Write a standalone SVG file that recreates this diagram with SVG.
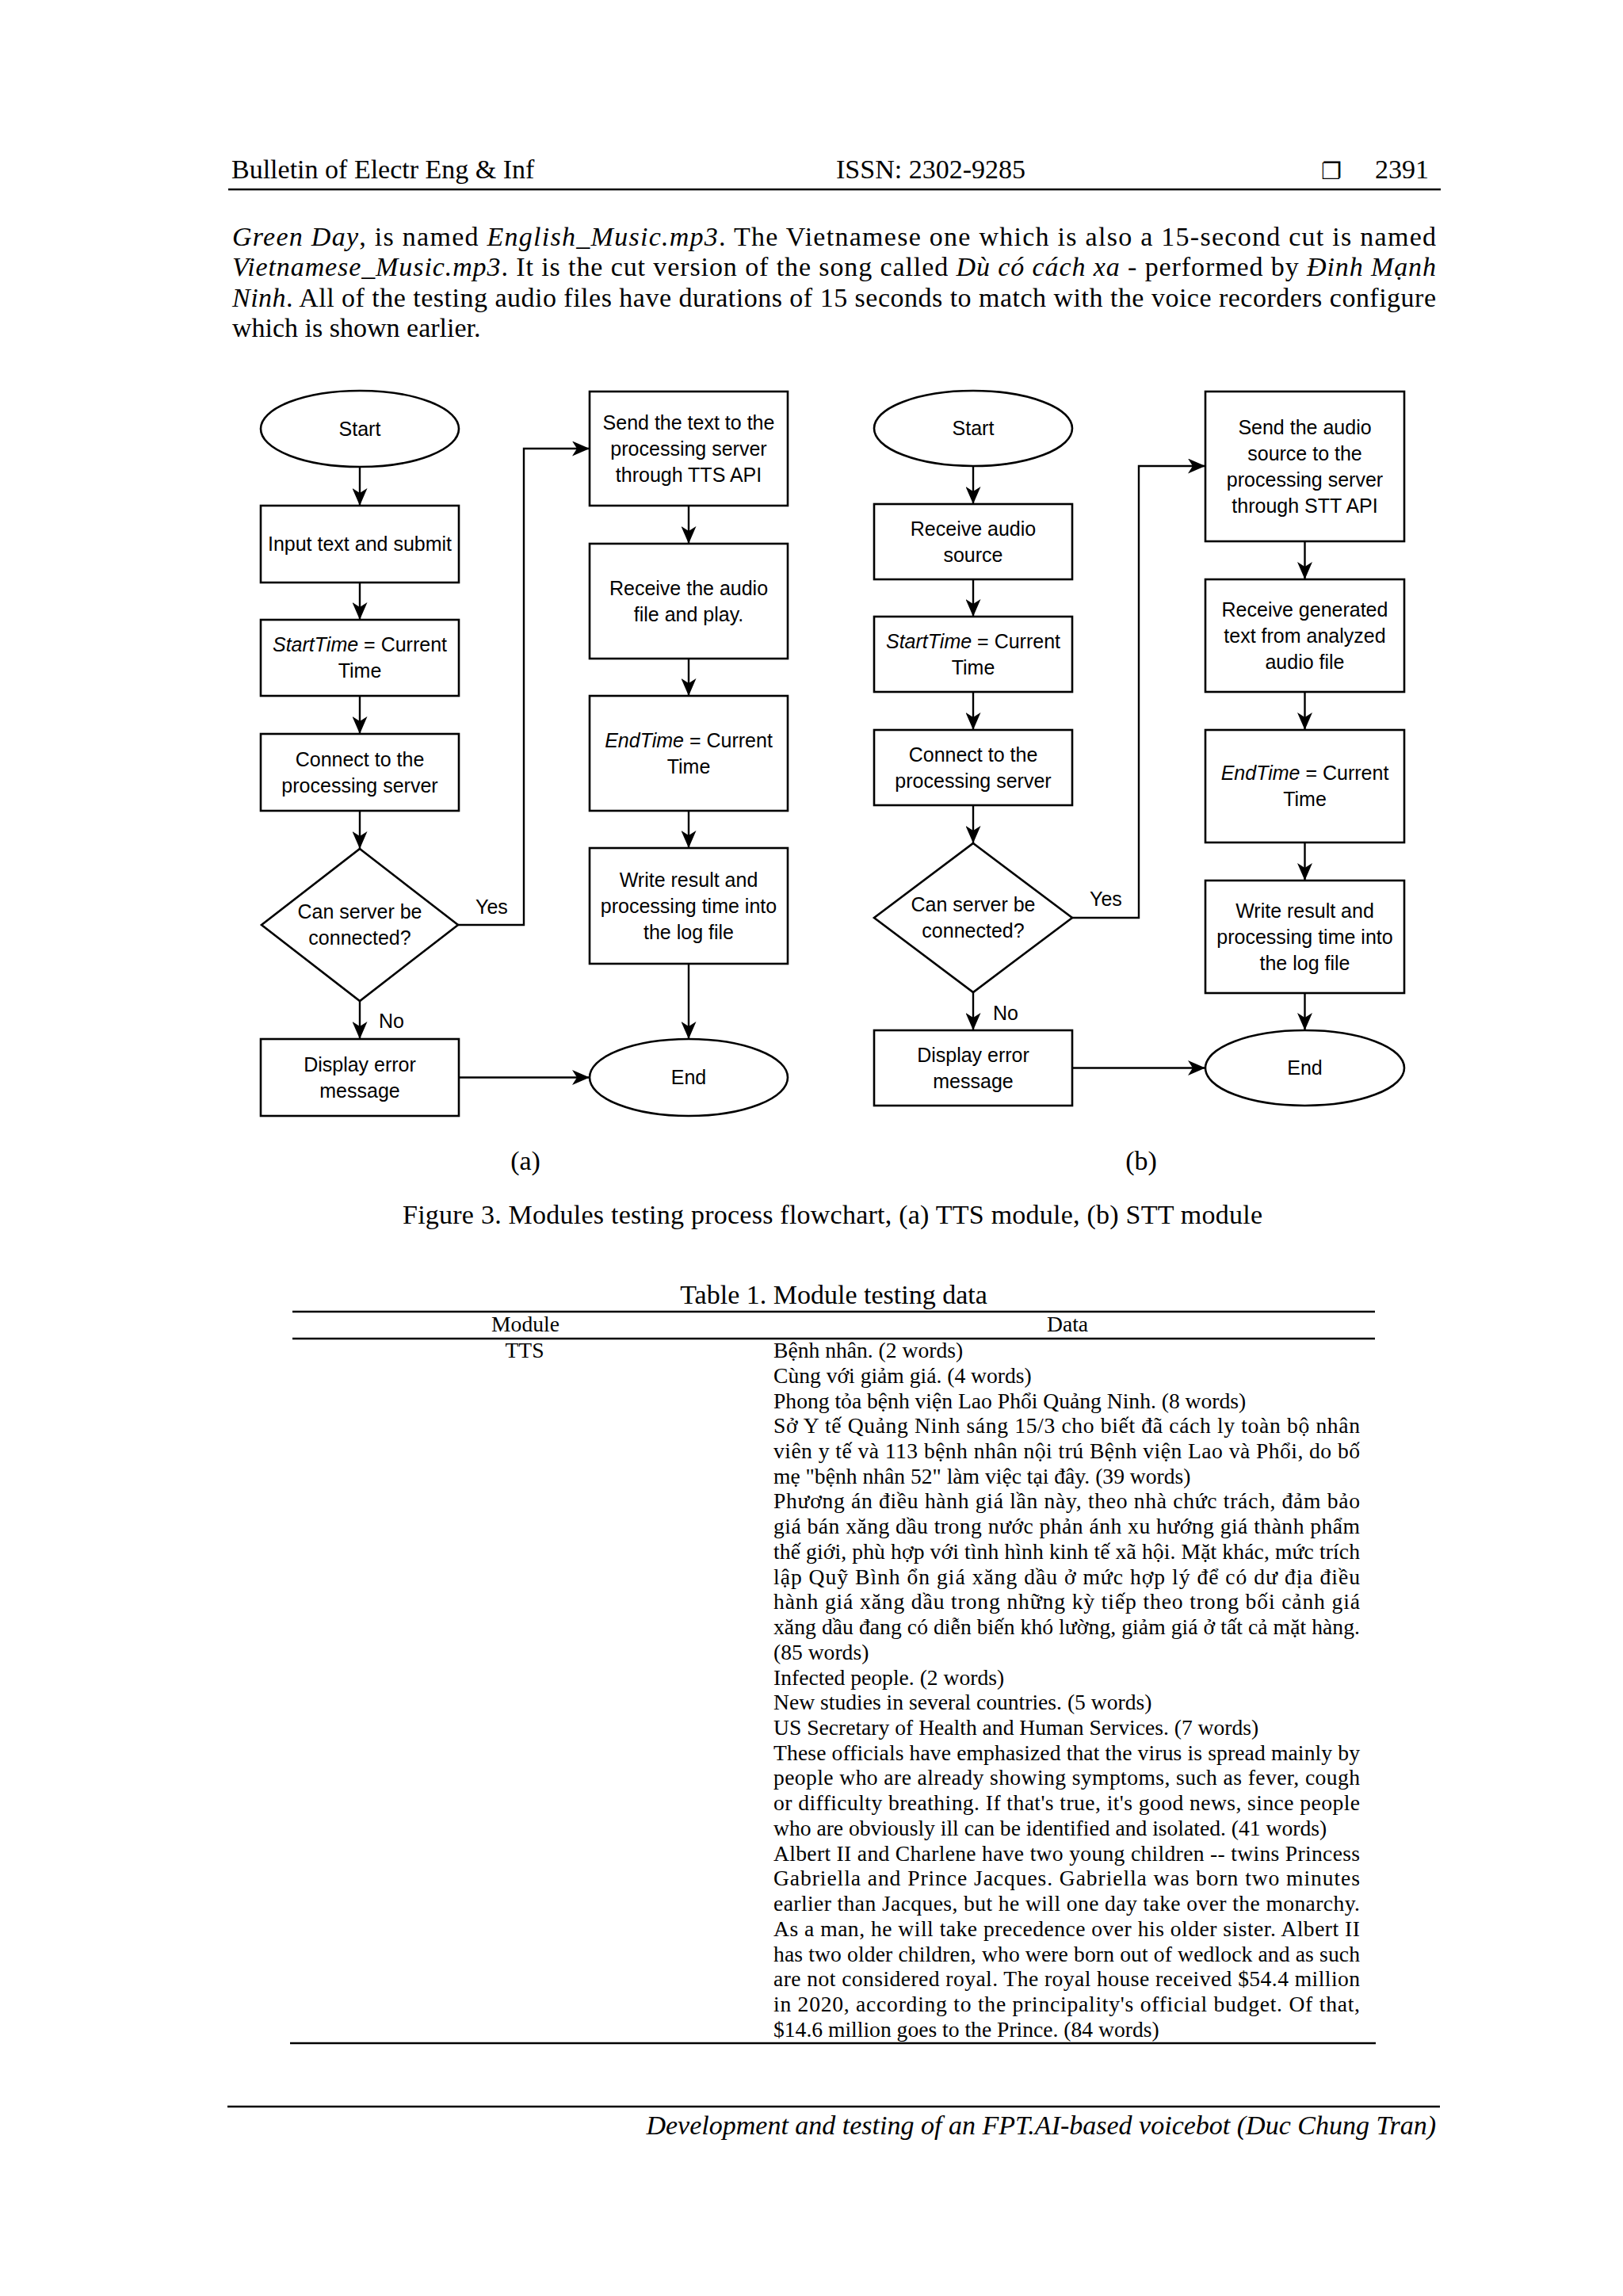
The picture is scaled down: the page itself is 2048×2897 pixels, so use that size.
<svg xmlns="http://www.w3.org/2000/svg" width="2048" height="2897" viewBox="0 0 2048 2897">
<style>
.pg{font-family:"Liberation Serif","Times New Roman",serif;font-size:34px;fill:#000}
.tb{font-family:"Liberation Serif","Times New Roman",serif;font-size:27.6px;fill:#000}
.fc{font-family:"Liberation Sans",Arial,sans-serif;font-size:25px;fill:#000;text-anchor:middle}
.lb{font-family:"Liberation Sans",Arial,sans-serif;font-size:25px;fill:#000}
.it{font-style:italic}
.shape{fill:#fff;stroke:#000;stroke-width:2.6}
.conn{fill:none;stroke:#000;stroke-width:2.4}
.rule{stroke:#000;stroke-width:2.5}
</style>
<defs>
<marker id="arr" viewBox="0 0 22 19" refX="22" refY="9.5" markerWidth="22" markerHeight="19" markerUnits="userSpaceOnUse" orient="auto">
<path d="M0,0 L22,9.5 L0,19 L6,9.5 Z" fill="#000"/>
</marker>
</defs>
<rect width="2048" height="2897" fill="#fff"/>

<!-- page header -->
<g id="header">
<text class="pg" x="292" y="225">Bulletin of Electr Eng &amp; Inf</text>
<text class="pg" x="1055" y="225">ISSN: 2302-9285</text>
<text x="1667" y="226" style="font-family:'DejaVu Sans',sans-serif;font-size:29px;font-weight:bold;fill:#000">❐</text>
<text class="pg" x="1735" y="225">2391</text>
<line class="rule" x1="288" y1="239" x2="1818" y2="239"/>
</g>

<!-- paragraph -->
<g id="paragraph">
<text class="pg" x="293" y="310" textLength="1519" lengthAdjust="spacing"><tspan class="it">Green Day</tspan>, is named <tspan class="it">English_Music.mp3</tspan>. The Vietnamese one which is also a 15-second cut is named</text>
<text class="pg" x="293" y="348" textLength="1519" lengthAdjust="spacing"><tspan class="it">Vietnamese_Music.mp3</tspan>. It is the cut version of the song called <tspan class="it">Dù có cách xa</tspan> - performed by <tspan class="it">Đinh Mạnh</tspan></text>
<text class="pg" x="293" y="387" textLength="1519" lengthAdjust="spacing"><tspan class="it">Ninh</tspan>. All of the testing audio files have durations of 15 seconds to match with the voice recorders configure</text>
<text class="pg" x="293" y="425">which is shown earlier.</text>
</g>

<!-- connectors -->
<g id="connectors">
<path class="conn" marker-end="url(#arr)" d="M454,589 V638"/>
<path class="conn" marker-end="url(#arr)" d="M454,735 V782"/>
<path class="conn" marker-end="url(#arr)" d="M454,878 V926"/>
<path class="conn" marker-end="url(#arr)" d="M454,1023 V1071"/>
<path class="conn" marker-end="url(#arr)" d="M454,1263 V1311"/>
<path class="conn" marker-end="url(#arr)" d="M578,1167 H661 V566 H744"/>
<path class="conn" marker-end="url(#arr)" d="M869,638 V686"/>
<path class="conn" marker-end="url(#arr)" d="M869,831 V878"/>
<path class="conn" marker-end="url(#arr)" d="M869,1023 V1070"/>
<path class="conn" marker-end="url(#arr)" d="M869,1216 V1311"/>
<path class="conn" marker-end="url(#arr)" d="M579,1359.5 H744"/>
<path class="conn" marker-end="url(#arr)" d="M1228,588 V636"/>
<path class="conn" marker-end="url(#arr)" d="M1228,731 V778"/>
<path class="conn" marker-end="url(#arr)" d="M1228,873 V921"/>
<path class="conn" marker-end="url(#arr)" d="M1228,1016 V1064"/>
<path class="conn" marker-end="url(#arr)" d="M1228,1252 V1300"/>
<path class="conn" marker-end="url(#arr)" d="M1353,1158 H1437 V588 H1521"/>
<path class="conn" marker-end="url(#arr)" d="M1646.5,683 V731"/>
<path class="conn" marker-end="url(#arr)" d="M1646.5,873 V921"/>
<path class="conn" marker-end="url(#arr)" d="M1646.5,1063 V1111"/>
<path class="conn" marker-end="url(#arr)" d="M1646.5,1253 V1300"/>
<path class="conn" marker-end="url(#arr)" d="M1353,1347.5 H1521"/>
<text class="lb" x="600" y="1153">Yes</text>
<text class="lb" x="478" y="1297">No</text>
<text class="lb" x="1375" y="1143">Yes</text>
<text class="lb" x="1253" y="1287">No</text>
</g>

<!-- flowchart (a) -->
<g id="a-start"><ellipse class="shape" cx="454" cy="541" rx="125" ry="48"/><text class="fc" x="454" y="550">Start</text></g>
<g id="a-input"><rect class="shape" x="329" y="638" width="250" height="97"/><text class="fc" x="454" y="695">Input text and submit</text></g>
<g id="a-starttime"><rect class="shape" x="329" y="782" width="250" height="96"/><text class="fc" x="454" y="822"><tspan class="it">StartTime</tspan> = Current</text><text class="fc" x="454" y="855">Time</text></g>
<g id="a-connect"><rect class="shape" x="329" y="926" width="250" height="97"/><text class="fc" x="454" y="967">Connect to the</text><text class="fc" x="454" y="1000">processing server</text></g>
<g id="a-decision"><polygon class="shape" points="454,1071 578,1167 454,1263 330,1167"/><text class="fc" x="454" y="1159">Can server be</text><text class="fc" x="454" y="1192">connected?</text></g>
<g id="a-error"><rect class="shape" x="329" y="1311" width="250" height="97"/><text class="fc" x="454" y="1352">Display error</text><text class="fc" x="454" y="1385">message</text></g>
<g id="a-send"><rect class="shape" x="744" y="494" width="250" height="144"/><text class="fc" x="869" y="542">Send the text to the</text><text class="fc" x="869" y="575">processing server</text><text class="fc" x="869" y="608">through TTS API</text></g>
<g id="a-receive"><rect class="shape" x="744" y="686" width="250" height="145"/><text class="fc" x="869" y="751">Receive the audio</text><text class="fc" x="869" y="784">file and play.</text></g>
<g id="a-endtime"><rect class="shape" x="744" y="878" width="250" height="145"/><text class="fc" x="869" y="943"><tspan class="it">EndTime</tspan> = Current</text><text class="fc" x="869" y="976">Time</text></g>
<g id="a-write"><rect class="shape" x="744" y="1070" width="250" height="146"/><text class="fc" x="869" y="1119">Write result and</text><text class="fc" x="869" y="1152">processing time into</text><text class="fc" x="869" y="1185">the log file</text></g>
<g id="a-end"><ellipse class="shape" cx="869" cy="1359.5" rx="125" ry="48.5"/><text class="fc" x="869" y="1368">End</text></g>

<!-- flowchart (b) -->
<g id="b-start"><ellipse class="shape" cx="1228" cy="540.5" rx="125" ry="47.5"/><text class="fc" x="1228" y="549">Start</text></g>
<g id="b-receive"><rect class="shape" x="1103" y="636" width="250" height="95"/><text class="fc" x="1228" y="676">Receive audio</text><text class="fc" x="1228" y="709">source</text></g>
<g id="b-starttime"><rect class="shape" x="1103" y="778" width="250" height="95"/><text class="fc" x="1228" y="818"><tspan class="it">StartTime</tspan> = Current</text><text class="fc" x="1228" y="851">Time</text></g>
<g id="b-connect"><rect class="shape" x="1103" y="921" width="250" height="95"/><text class="fc" x="1228" y="961">Connect to the</text><text class="fc" x="1228" y="994">processing server</text></g>
<g id="b-decision"><polygon class="shape" points="1228,1064 1353,1158 1228,1252 1103,1158"/><text class="fc" x="1228" y="1150">Can server be</text><text class="fc" x="1228" y="1183">connected?</text></g>
<g id="b-error"><rect class="shape" x="1103" y="1300" width="250" height="95"/><text class="fc" x="1228" y="1340">Display error</text><text class="fc" x="1228" y="1373">message</text></g>
<g id="b-send"><rect class="shape" x="1521" y="494" width="251" height="189"/><text class="fc" x="1646.5" y="548">Send the audio</text><text class="fc" x="1646.5" y="581">source to the</text><text class="fc" x="1646.5" y="614">processing server</text><text class="fc" x="1646.5" y="647">through STT API</text></g>
<g id="b-receivetext"><rect class="shape" x="1521" y="731" width="251" height="142"/><text class="fc" x="1646.5" y="778">Receive generated</text><text class="fc" x="1646.5" y="811">text from analyzed</text><text class="fc" x="1646.5" y="844">audio file</text></g>
<g id="b-endtime"><rect class="shape" x="1521" y="921" width="251" height="142"/><text class="fc" x="1646.5" y="984"><tspan class="it">EndTime</tspan> = Current</text><text class="fc" x="1646.5" y="1017">Time</text></g>
<g id="b-write"><rect class="shape" x="1521" y="1111" width="251" height="142"/><text class="fc" x="1646.5" y="1158">Write result and</text><text class="fc" x="1646.5" y="1191">processing time into</text><text class="fc" x="1646.5" y="1224">the log file</text></g>
<g id="b-end"><ellipse class="shape" cx="1646.5" cy="1347.5" rx="125.5" ry="47.5"/><text class="fc" x="1646.5" y="1356">End</text></g>

<!-- captions -->
<g id="captions">
<text class="pg" x="663" y="1476" text-anchor="middle">(a)</text>
<text class="pg" x="1440" y="1476" text-anchor="middle">(b)</text>
<text class="pg" x="508" y="1544" textLength="1085" lengthAdjust="spacing">Figure 3. Modules testing process flowchart, (a) TTS module, (b) STT module</text>
</g>

<!-- table -->
<g id="table">
<text class="pg" x="1052" y="1645" text-anchor="middle">Table 1. Module testing data</text>
<line class="rule" x1="369" y1="1655" x2="1735" y2="1655"/>
<text class="tb" x="663" y="1680" text-anchor="middle">Module</text>
<text class="tb" x="1347" y="1680" text-anchor="middle">Data</text>
<line class="rule" x1="369" y1="1689" x2="1735" y2="1689"/>
<text class="tb" x="662" y="1713" text-anchor="middle">TTS</text>
<text class="tb" x="976" y="1713">Bệnh nhân. (2 words)</text>
<text class="tb" x="976" y="1744.7">Cùng với giảm giá. (4 words)</text>
<text class="tb" x="976" y="1776.5">Phong tỏa bệnh viện Lao Phổi Quảng Ninh. (8 words)</text>
<text class="tb" x="976" y="1808.2" textLength="740" lengthAdjust="spacing">Sở Y tế Quảng Ninh sáng 15/3 cho biết đã cách ly toàn bộ nhân</text>
<text class="tb" x="976" y="1839.9" textLength="740" lengthAdjust="spacing">viên y tế và 113 bệnh nhân nội trú Bệnh viện Lao và Phổi, do bố</text>
<text class="tb" x="976" y="1871.7">mẹ "bệnh nhân 52" làm việc tại đây. (39 words)</text>
<text class="tb" x="976" y="1903.4" textLength="740" lengthAdjust="spacing">Phương án điều hành giá lần này, theo nhà chức trách, đảm bảo</text>
<text class="tb" x="976" y="1935.1" textLength="740" lengthAdjust="spacing">giá bán xăng dầu trong nước phản ánh xu hướng giá thành phẩm</text>
<text class="tb" x="976" y="1966.8" textLength="740" lengthAdjust="spacing">thế giới, phù hợp với tình hình kinh tế xã hội. Mặt khác, mức trích</text>
<text class="tb" x="976" y="1998.6" textLength="740" lengthAdjust="spacing">lập Quỹ Bình ổn giá xăng dầu ở mức hợp lý để có dư địa điều</text>
<text class="tb" x="976" y="2030.3" textLength="740" lengthAdjust="spacing">hành giá xăng dầu trong những kỳ tiếp theo trong bối cảnh giá</text>
<text class="tb" x="976" y="2062" textLength="740" lengthAdjust="spacing">xăng dầu đang có diễn biến khó lường, giảm giá ở tất cả mặt hàng.</text>
<text class="tb" x="976" y="2093.8">(85 words)</text>
<text class="tb" x="976" y="2125.5">Infected people. (2 words)</text>
<text class="tb" x="976" y="2157.2">New studies in several countries. (5 words)</text>
<text class="tb" x="976" y="2189">US Secretary of Health and Human Services. (7 words)</text>
<text class="tb" x="976" y="2220.7" textLength="740" lengthAdjust="spacing">These officials have emphasized that the virus is spread mainly by</text>
<text class="tb" x="976" y="2252.4" textLength="740" lengthAdjust="spacing">people who are already showing symptoms, such as fever, cough</text>
<text class="tb" x="976" y="2284.1" textLength="740" lengthAdjust="spacing">or difficulty breathing. If that's true, it's good news, since people</text>
<text class="tb" x="976" y="2315.9">who are obviously ill can be identified and isolated. (41 words)</text>
<text class="tb" x="976" y="2347.6" textLength="740" lengthAdjust="spacing">Albert II and Charlene have two young children -- twins Princess</text>
<text class="tb" x="976" y="2379.3" textLength="740" lengthAdjust="spacing">Gabriella and Prince Jacques. Gabriella was born two minutes</text>
<text class="tb" x="976" y="2411.1" textLength="740" lengthAdjust="spacing">earlier than Jacques, but he will one day take over the monarchy.</text>
<text class="tb" x="976" y="2442.8" textLength="740" lengthAdjust="spacing">As a man, he will take precedence over his older sister. Albert II</text>
<text class="tb" x="976" y="2474.5" textLength="740" lengthAdjust="spacing">has two older children, who were born out of wedlock and as such</text>
<text class="tb" x="976" y="2506.3" textLength="740" lengthAdjust="spacing">are not considered royal. The royal house received $54.4 million</text>
<text class="tb" x="976" y="2538" textLength="740" lengthAdjust="spacing">in 2020, according to the principality's official budget. Of that,</text>
<text class="tb" x="976" y="2569.7">$14.6 million goes to the Prince. (84 words)</text>
<line class="rule" x1="366" y1="2578" x2="1736" y2="2578"/>
</g>

<!-- footer -->
<g id="footer">
<line class="rule" x1="287" y1="2658" x2="1817" y2="2658"/>
<text class="pg it" x="1812" y="2693" text-anchor="end">Development and testing of an FPT.AI-based voicebot (Duc Chung Tran)</text>
</g>
</svg>
